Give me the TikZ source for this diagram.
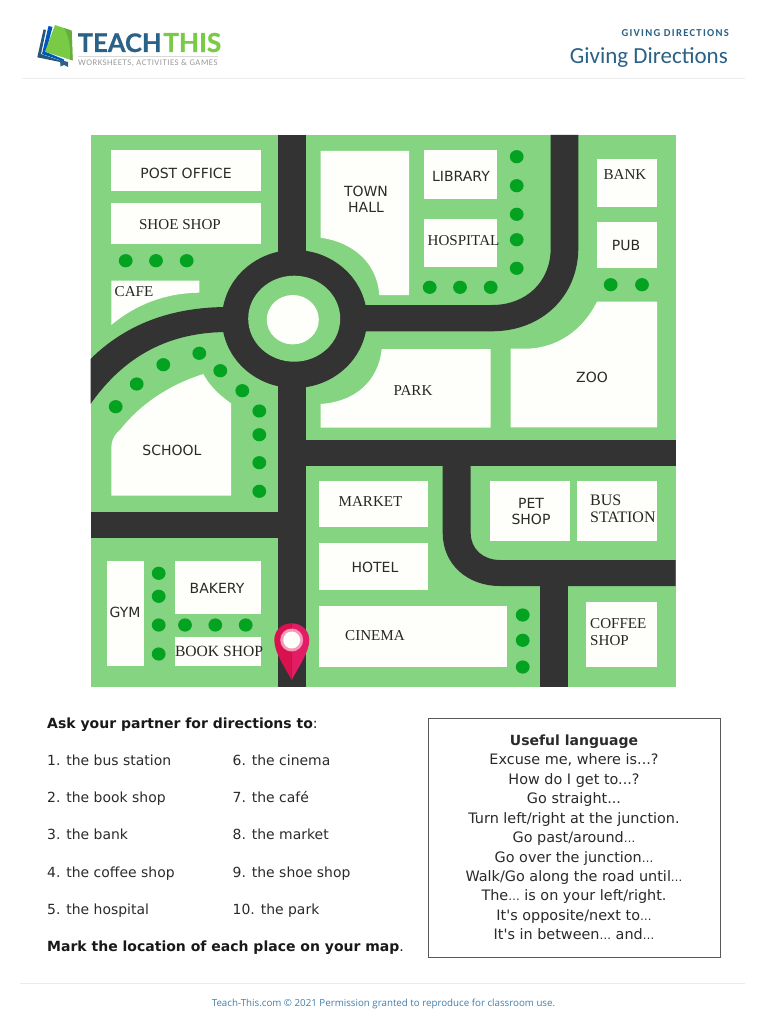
\documentclass[tikz,border=0pt]{standalone}
\usepackage{fontspec}
\setmainfont{DejaVu Sans}
\newfontfamily\mapsans{DejaVu Sans}
\newfontfamily\footfont{Open Sans}
\newfontfamily\mapserif{Liberation Serif}
\newfontfamily\logofont[BoldFeatures={FakeBold=0.6}]{Lato}
\newfontfamily\titlefont{Carlito}
\newfontfamily\titlespaced[LetterSpace=6]{Carlito}
\newfontfamily\kickerfont[LetterSpace=12]{Carlito}
\newcommand{\tightdots}{{\fontsize{11.5}{11.5}\selectfont …}}
\definecolor{grass}{HTML}{84D481}
\definecolor{road}{HTML}{333333}
\definecolor{plot}{HTML}{FEFEFA}
\definecolor{tree}{HTML}{04A221}
\definecolor{pinL}{HTML}{D9124F}
\definecolor{pinR}{HTML}{E31C66}
\definecolor{navy}{HTML}{2A6187}
\definecolor{footblue}{HTML}{3F7FAE}
\definecolor{leaf}{HTML}{79CB45}
\definecolor{inktext}{HTML}{2A2A2A}
\tikzset{
  plotshape/.style={fill=plot},
  roadshape/.style={fill=road},
  treedot/.style={fill=tree},
  sanslabel/.style={inner sep=0pt,align=center,text=inktext,font=\mapsans\fontsize{14}{16}\selectfont},
  seriflabel/.style={inner sep=0pt,align=center,text=black!85,font=\mapserif\fontsize{15.1}{16.5}\selectfont},
  bodytext/.style={inner sep=0pt,anchor=base west,text=inktext,font=\fontsize{13.95}{15}\selectfont},
  boldtext/.style={inner sep=0pt,anchor=base west,text=black!90,font=\fontsize{14}{15}\selectfont\bfseries},
  boxline/.style={inner sep=0pt,anchor=base,text=inktext,font=\fontsize{14.4}{15}\selectfont},
}
\begin{document}
\begin{tikzpicture}[x=1pt,y=-1pt]
\useasboundingbox (0,0) rectangle (768,1024);
\fill[white] (0,0) rectangle (768,1024);

% header
\fill[navy!90!black] (43.5,29.5) -- (46,30) -- (41,54) -- (60,60.5) -- (60,62) -- (37.3,57.3) -- cycle;
\fill[blue!55!cyan!75!black] (48.5,26) -- (52.5,27) -- (46,52) -- (64,59.5) -- (64,61.5) -- (42,54) -- cycle;
\fill[leaf] (55,25) -- (71.7,30.7) -- (72.7,60.5) -- (45,51.7) -- cycle;
\fill[leaf!85!black] (64,28) -- (71.7,30.7) -- (72.7,60.5) -- (70,59.5) .. controls (71,48) and (69,36) .. (64,28) -- cycle;
\fill[navy] (60,60) -- (68,62) -- (68,67) -- (64,65) -- (60.5,66.5) -- cycle;
\node[inner sep=0pt,anchor=base west,text=navy,font=\logofont\bfseries\fontsize{25.6}{30}\selectfont] (logoA) at (77.5,52) {TEACH};
\node[inner sep=0pt,anchor=base west,text=leaf,font=\logofont\bfseries\fontsize{26.2}{30}\selectfont] (logoB) at (163,52) {THIS};
\draw[black!15,line width=0.5pt] (78,56.5) -- (218,56.5);
\node[inner sep=0pt,anchor=base west,text=black!40,font=\titlespaced\fontsize{8.65}{10}\selectfont] (tagline) at (78,65.5) {WORKSHEETS, ACTIVITIES \& GAMES};
\node[inner sep=0pt,anchor=base east,text=navy,font=\kickerfont\bfseries\fontsize{10.6}{12}\selectfont] (kicker) at (729,37) {GIVING DIRECTIONS};
\node[inner sep=0pt,anchor=base east,text=navy,font=\titlefont\fontsize{23}{24}\selectfont] (title) at (728,63.5) {Giving Directions};
\draw[black!7,line width=1pt] (22,78.5) -- (745,78.5);

% map ground
\fill[grass] (90.5,135) rectangle (675.5,687);

% roads
\fill[roadshape] (278,135) rectangle (306,687);
\fill[roadshape] (294.5,319) ellipse [x radius=72.5,y radius=69];
\fill[roadshape] (90.5,359) .. controls (125,325) and (170,307) .. (228,307) -- (228,332) .. controls (170,332) and (125,355) .. (90.5,404) -- cycle;
\fill[roadshape] (360,305) -- (492,305) .. controls (526,305) and (550.7,282) .. (550.7,248) -- (550.7,135) -- (578.3,135) -- (578.3,248) .. controls (578.3,296) and (542,331.3) .. (492,331.3) -- (360,331.3) -- cycle;
\fill[roadshape] (306,440) rectangle (675.5,466);
\fill[roadshape] (90.5,511.7) rectangle (278,537.7);
\fill[roadshape] (442.7,460) -- (470.7,460) -- (470.7,533) .. controls (470.7,549) and (483,560) .. (500,560) -- (675.5,560) -- (675.5,586) -- (500,586) .. controls (467,586) and (442.7,564) .. (442.7,533) -- cycle;
\fill[roadshape] (540,580) rectangle (568,687);

% roundabout
\fill[grass] (294.2,318.7) ellipse [x radius=46,y radius=43];
\fill[plot] (292.8,319.7) ellipse [x radius=26,y radius=24.7];

% buildings
\fill[plotshape] (111.3,150) rectangle (261.3,191.3);
\fill[plotshape] (111.3,203.3) rectangle (261.3,244.3);
\fill[plotshape] (111.3,280.7) -- (199.3,280.7) -- (199.3,292.7) .. controls (165,293) and (135,305) .. (111.3,325) -- cycle;
\fill[plotshape] (111.3,495.7) -- (111.3,447) .. controls (112,438) and (116,433) .. (120,430) .. controls (142,402) and (172,384) .. (203.3,374) .. controls (209,385) and (219,395) .. (231,403.3) -- (231,495.7) -- cycle;
\fill[plotshape] (320.7,151) -- (409,151) -- (409,295) -- (379.3,295) .. controls (377,262) and (352,242) .. (320.7,237.7) -- cycle;
\fill[plotshape] (424,150.3) rectangle (496.7,199.3);
\fill[plotshape] (424,218.7) rectangle (496.7,267.3);
\fill[plotshape] (597,159.3) rectangle (657,206.7);
\fill[plotshape] (597,222.3) rectangle (657,268.3);
\fill[plotshape] (510.7,348.7) -- (525,348.7) .. controls (557,348.7) and (583,330) .. (597,301.7) -- (657,301.7) -- (657,427.3) -- (510.7,427.3) -- cycle;
\fill[plotshape] (320.7,404) .. controls (352,402) and (378,384) .. (381.7,349) -- (490.7,349) -- (490.7,427.7) -- (320.7,427.7) -- cycle;
\fill[plotshape] (318.7,480.7) rectangle (427.7,527.3);
\fill[plotshape] (318.7,543.3) rectangle (427.7,590);
\fill[plotshape] (318.7,606.3) rectangle (507.3,667);
\fill[plotshape] (490.3,480.7) rectangle (570,541);
\fill[plotshape] (577,480.7) rectangle (657,541);
\fill[plotshape] (586.3,602) rectangle (657,667);
\fill[plotshape] (106.7,561) rectangle (144,665.7);
\fill[plotshape] (174.7,561) rectangle (261.3,614);
\fill[plotshape] (174.7,637.3) rectangle (261.3,665.7);

% trees
\foreach \tx/\ty in {125.7/260.7,156/260.7,186.7/260.7,
  199.3/353.3,163.3/364.7,136.7/384,115.7/406.7,220.3/370.7,242.3/390.7,
  259.3/411,259.3/434.7,259.3/462.7,259.3/491.3,
  516.7/156.7,516.7/185.7,516.7/214.3,516.7/239.7,516.7/268.3,
  429.7/287.3,460/287.3,490.7/287.3,610.7/284.7,642/284.7,
  158.7/573.3,158.7/596.3,158.7/625,158.7/654,185/625,215.3/625,245.7/625,
  522.7/615,522.7/640.3,522.7/667}
  {\fill[treedot] (\tx,\ty) ellipse [x radius=6.9,y radius=6.6];}

% pin
\fill[pinR] (291.7,623.3) .. controls (302,623.3) and (309.3,631) .. (309.3,640) .. controls (309.3,652) and (299,666) .. (291.7,680) -- cycle;
\fill[pinL] (291.7,623.3) .. controls (281,623.3) and (274.3,631) .. (274.3,640) .. controls (274.3,652) and (284,666) .. (291.7,680) -- cycle;
\fill[pinR!45!white] (291.7,640) circle (11.5);
\fill[plot] (291.7,640) circle (8.5);

% map labels
\node[sanslabel] (lpost) at (186,173) {POST OFFICE};
\node[seriflabel] (lshoe) at (180,225) {SHOE SHOP};
\node[seriflabel] (lcafe) at (134,292) {CAFE};
\node[sanslabel] (ltown) at (366,199) {TOWN\\HALL};
\node[sanslabel] (llib) at (461,176) {LIBRARY};
\node[seriflabel] (lhosp) at (463.5,241) {HOSPITAL};
\node[seriflabel] (lbank) at (625,175) {BANK};
\node[sanslabel] (lpub) at (626,245.5) {PUB};
\node[sanslabel] (lzoo) at (592,377) {ZOO};
\node[seriflabel] (lpark) at (413,391) {PARK};
\node[sanslabel] (lschool) at (172,450) {SCHOOL};
\node[seriflabel] (lmarket) at (370.5,502) {MARKET};
\node[sanslabel] (lhotel) at (375,567) {HOTEL};
\node[seriflabel] (lcinema) at (375,636) {CINEMA};
\node[sanslabel] (lpet) at (531,511) {PET\\SHOP};
\node[seriflabel,anchor=west,align=left,font=\mapserif\fontsize{16}{17}\selectfont] (lbus) at (590,509) {BUS\\STATION};
\node[seriflabel,anchor=west,align=left] (lcoffee) at (590,632) {COFFEE\\SHOP};
\node[sanslabel] (lgym) at (125,612) {GYM};
\node[sanslabel] (lbakery) at (217,588) {BAKERY};
\node[seriflabel,font=\mapserif\fontsize{15.6}{17}\selectfont] (lbook) at (219,651) {BOOK SHOP};

% task list
\node[boldtext] (ask) at (47,728) {Ask your partner for directions to\textmd{:}};
\node[bodytext] (a1) at (47,765) {1. the bus station};
\node[bodytext] (a2) at (47,802) {2. the book shop};
\node[bodytext] (a3) at (47,839) {3. the bank};
\node[bodytext] (a4) at (47,877) {4. the coffee shop};
\node[bodytext] (a5) at (47,914) {5. the hospital};
\node[bodytext] (b1) at (232.5,765) {6. the cinema};
\node[bodytext] (b2) at (232.5,802) {7. the café};
\node[bodytext] (b3) at (232.5,839) {8. the market};
\node[bodytext] (b4) at (232.5,877) {9. the shoe shop};
\node[bodytext] (b5) at (232.5,914) {10. the park};
\node[boldtext] (mark) at (47,951) {Mark the location of each place on your map\textmd{.}};

% useful language box
\draw[black!65,line width=1pt] (428.5,718) rectangle (720,957);
\node[boxline,font=\fontsize{14}{15}\selectfont\bfseries] (u0) at (574,745) {Useful language};
\node[boxline] (u1) at (574,764.5) {Excuse me, where is...?};
\node[boxline] (u2) at (574,784) {How do I get to...?};
\node[boxline] (u3) at (574,803) {Go straight...};
\node[boxline] (u4) at (574,823) {Turn left/right at the junction.};
\node[boxline] (u5) at (574,842) {Go past/around\tightdots};
\node[boxline] (u6) at (574,862) {Go over the junction\tightdots};
\node[boxline] (u7) at (574,881) {Walk/Go along the road until\tightdots};
\node[boxline] (u8) at (574,900) {The\tightdots{} is on your left/right.};
\node[boxline] (u9) at (574,920) {It\textquotesingle s opposite/next to\tightdots};
\node[boxline] (u10) at (574,939) {It\textquotesingle s in between\tightdots{} and\tightdots};

% footer
\draw[black!8,line width=1pt] (20,983.5) -- (745,983.5);
\node[inner sep=0pt,anchor=base,text=footblue,font=\footfont\fontsize{9.75}{11}\selectfont] (foot) at (383.5,1006) {Teach-This.com © 2021 Permission granted to reproduce for classroom use.};
\end{tikzpicture}
\end{document}
